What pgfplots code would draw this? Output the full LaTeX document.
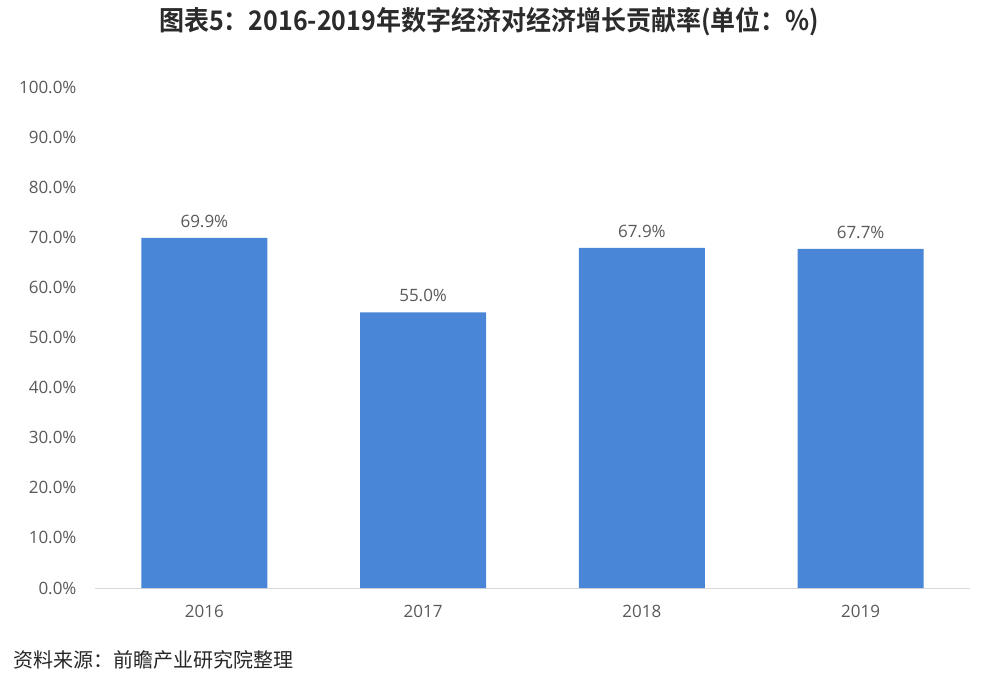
\documentclass[border=0pt]{standalone}
\usepackage{pgfplots}
\pgfplotsset{compat=1.18}
\usepackage{fontspec}
\setmainfont{Open Sans}
\newfontfamily\cjk[BoldFont={Noto Sans CJK SC Bold}]{Noto Sans CJK SC}
\definecolor{barblue}{HTML}{4A86D8}
\definecolor{txt}{HTML}{595959}
\definecolor{ttl}{HTML}{2B2B2B}
\begin{document}
\begin{tikzpicture}[x=1pt,y=1pt]
\useasboundingbox (0,0) rectangle (1000,675);
\node[font=\cjk\bfseries\fontsize{25}{29}\selectfont, text=ttl, yscale=1.08] at (489,653) {图表5：2016-2019年数字经济对经济增长贡献率(单位：\%)};
\node[anchor=west, font=\cjk\fontsize{20}{23}\selectfont, text=black!85] at (10,15) {资料来源：前瞻产业研究院整理};
\begin{axis}[
  at={(95pt,87pt)}, anchor=south west,
  scale only axis, width=875pt, height=501pt,
  xmin=-0.5, xmax=3.5, ymin=0, ymax=100,
  xtick=data, xticklabels={2016,2017,2018,2019},
  ytick={0,10,...,100},
  /pgf/number format/assume math mode=true,
  yticklabel={\pgfmathprintnumber[fixed,fixed zerofill,precision=1]{\tick}\%},
  ticklabel style={font=\fontsize{17}{20}\selectfont, text=txt},
  yticklabel style={xshift=-15pt},
  xticklabel style={yshift=-14pt},
  axis lines*=left,
  y axis line style={draw=none},
  x axis line style={draw=black!15, line width=1pt},
  tick style={draw=none},
  clip=false,
]
\addplot[ybar, bar width=126pt, fill=barblue, draw=none,
  nodes near coords={\pgfmathprintnumber[fixed,fixed zerofill,precision=1]{\pgfplotspointmeta}\%},
  nodes near coords style={font=\fontsize{17}{20}\selectfont, text=txt, anchor=south, yshift=7pt},
] coordinates {(0,69.9) (1,55.0) (2,67.9) (3,67.7)};
\end{axis}
\end{tikzpicture}
\end{document}
